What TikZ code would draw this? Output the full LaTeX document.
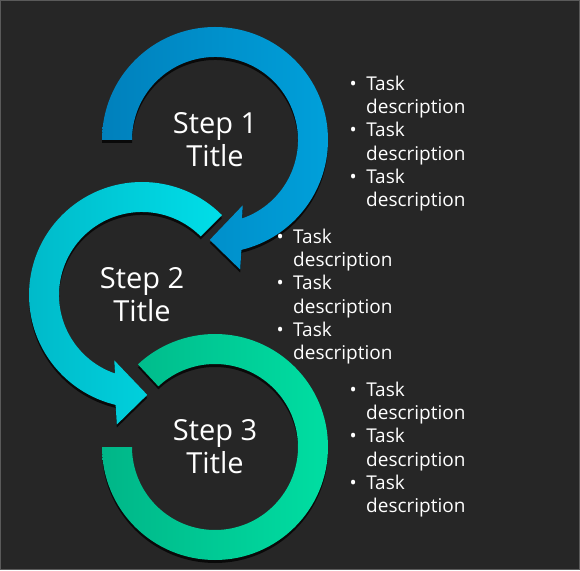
\documentclass[tikz,border=0pt]{standalone}
\usepackage{fontspec}
\setmainfont{Open Sans}
\usetikzlibrary{shadows}
\usepackage{xcolor}
\definecolor{bg}{RGB}{38,38,38}
\definecolor{frame}{RGB}{90,90,90}
\definecolor{blueA}{RGB}{0,128,188}
\definecolor{blueB}{RGB}{0,160,218}
\definecolor{cyanA}{RGB}{0,184,200}
\definecolor{cyanB}{RGB}{0,222,232}
\definecolor{greenA}{RGB}{0,182,136}
\definecolor{greenB}{RGB}{0,222,162}

\begin{document}
\begin{tikzpicture}[x=1pt, y=1pt,
    ring/.style={drop shadow={shadow xshift=0pt, shadow yshift=-3pt, opacity=0.75, fill=black}},
    steptitle/.style={text=white, align=center, font=\fontsize{29}{33}\selectfont},
    tasklist/.style={text=white, anchor=base west, inner sep=0pt, font=\fontsize{19}{23.2}\selectfont}]
    \useasboundingbox (0,0) rectangle (580,570);
    \fill[bg] (0,0) rectangle (580,570);
    \draw[frame, line width=1pt] (0.5,0.5) rectangle (579.5,569.5);
    % step 3 ring
    \begin{scope}[shift={(215,123)}]
        \shade[ring, left color=greenA, right color=greenB]
        (180:113) arc[start angle=180, end angle=493, radius=113]
        -- (493:83) arc[start angle=493, end angle=180, radius=83] -- cycle;
    \end{scope}
    % step 2 ring
    \begin{scope}[shift={(142,275)}]
        \shade[ring, left color=cyanA, right color=cyanB]
        (45:113) arc[start angle=45, end angle=256.5, radius=113]
        -- (259:132) -- (273:100) -- (247:71) -- (251:83)
        arc[start angle=251, end angle=45, radius=83] -- cycle;
    \end{scope}
    % step 1 ring
    \begin{scope}[shift={(215,430)}]
        \shade[ring, left color=blueA, right color=blueB]
        (180:113) arc[start angle=180, end angle=-76.5, radius=113]
        -- (-79:132) -- (-93:100) -- (-67:71) -- (-71:83)
        arc[start angle=-71, end angle=180, radius=83] -- cycle;
    \end{scope}
    \node[steptitle] (step1) at (215,430) {Step 1\\Title};
    \node[steptitle] (step2) at (142,275) {Step 2\\Title};
    \node[steptitle] (step3) at (215,123) {Step 3\\Title};
    \node[tasklist] (tasks1) at (349.4,479.5) {\begin{tabular}[t]{@{}l@{\hspace{9.5pt}}l@{}}
        \textbullet & Task\\ & description\\
        \textbullet & Task\\ & description\\
        \textbullet & Task\\ & description\end{tabular}};
    \node[tasklist] (tasks2) at (276.4,326.5) {\begin{tabular}[t]{@{}l@{\hspace{9.5pt}}l@{}}
        \textbullet & Task\\ & description\\
        \textbullet & Task\\ & description\\
        \textbullet & Task\\ & description\end{tabular}};
    \node[tasklist] (tasks3) at (349.4,173.5) {\begin{tabular}[t]{@{}l@{\hspace{9.5pt}}l@{}}
        \textbullet & Task\\ & description\\
        \textbullet & Task\\ & description\\
        \textbullet & Task\\ & description\end{tabular}};
\end{tikzpicture}
\end{document}
